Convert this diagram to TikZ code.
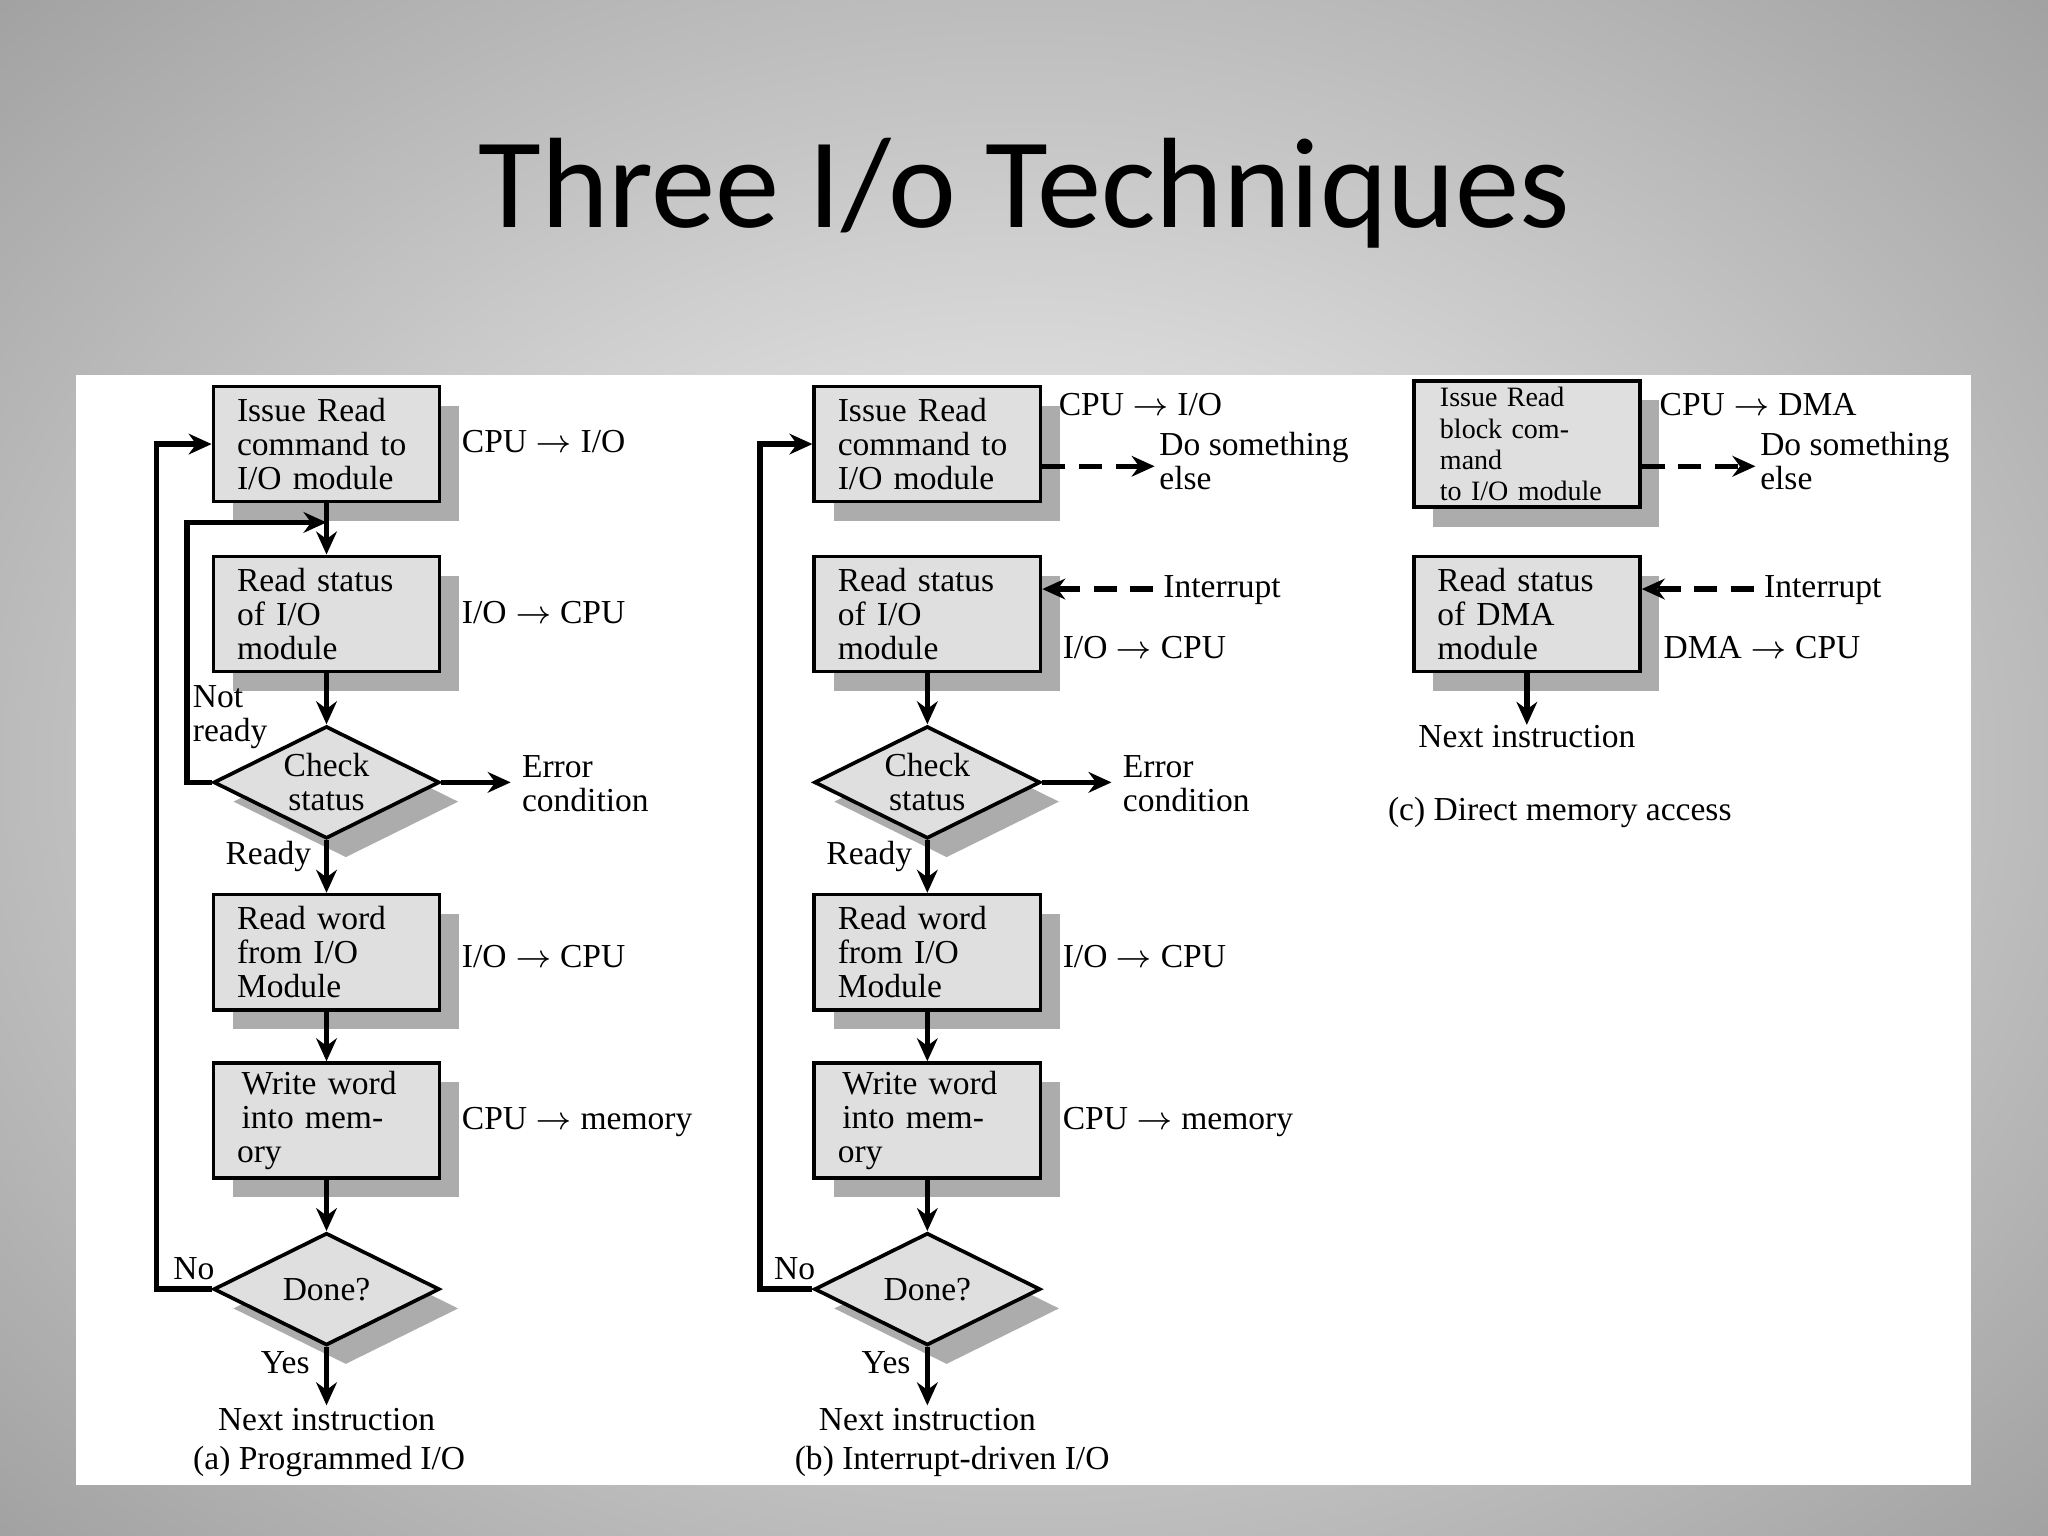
\documentclass[tikz,border=0pt]{standalone}
\usepackage{fontspec}
\setmainfont{Liberation Serif}
\newfontfamily\titlefont{Carlito}
\usetikzlibrary{shapes.geometric,shadows,arrows.meta}
\begin{document}
\begin{tikzpicture}[x=0.01cm,y=-0.01cm,
  font=\fontsize{7.3}{7.4}\selectfont,
  sh/.style={drop shadow={shadow xshift=4.2pt,shadow yshift=-4.2pt,fill=gray!65,opacity=1}},
  boxn/.style={draw,line width=0.8pt,fill=gray!25,sh,minimum width=1.73cm,minimum height=0.88cm,text width=1.37cm,inner xsep=0.18cm,inner ysep=0.05cm,align=left},
  dia/.style={draw,line width=0.8pt,fill=gray!25,sh,diamond,aspect=2,minimum width=1.73cm,minimum height=0.86cm,inner sep=0,align=center},
  ar/.style={line width=1.2pt,-{Stealth[length=5pt,width=4.5pt]}},
  da/.style={ar,dashed,dash pattern=on 5pt off 3pt},
  lb/.style={anchor=west,inner sep=0,align=left}]
\useasboundingbox (0,0) rectangle (1568,1176);
\shade[inner color=gray!5,outer color=gray!85] (-500,-400) rectangle (2068,1576);
\fill[white] (58,287) rectangle (1509,1137);
\node[font=\titlefont\fontsize{28}{30}\selectfont] (title) at (784,148) {Three I/o Techniques};
% column (a)
\node[boxn] (a1) at (250,340) {Issue Read\\command to\\I/O module};
\node[boxn] (a2) at (250,470) {Read status\\of I/O\\module};
\node[dia] (a3) at (250,599) {Check\\status};
\node[boxn] (a4) at (250,729) {Read word\\from I/O\\Module};
\node[boxn] (a5) at (250,858) {\hspace*{1pt}Write word\\\hspace*{1pt}into memory};
\node[dia] (a6) at (250,987) {Done?};
\coordinate (aend) at (250,1076);
\coordinate (aerr) at (391,599);
\draw[ar] (a1) -- (a2);
\draw[ar] (a2) -- (a3);
\draw[ar] (a3) -- (a4);
\draw[ar] (a4) -- (a5);
\draw[ar] (a5) -- (a6);
\draw[ar] (a6) -- (aend);
\draw[ar] (a3.east) -- (aerr);
\draw[ar] (a3.west) -- (143,599) -- (143,400) -- (250,400);
\draw[ar] (a6.west) -- (120,987) -- (120,340) -- (a1.west);
\node[lb] (al1) at (353,338) {CPU $\rightarrow$ I/O};
\node[lb] (al2) at (353,469) {I/O $\rightarrow$ CPU};
\node[lb] (al3) at (399,600) {Error\\condition};
\node[lb] (al4) at (147,549) {Not\\ready};
\node[lb] (al5) at (172,656) {Ready};
\node[lb] (al6) at (353,732) {I/O $\rightarrow$ CPU};
\node[lb] (al7) at (353,859) {CPU $\rightarrow$ memory};
\node[lb] (al8) at (132,971) {No};
\node[lb] (al9) at (199,1043) {Yes};
\node (al10) at (250,1087) {Next instruction};
\node (al11) at (252,1119) {(a) Programmed I/O};
% column (b)
\node[boxn] (b1) at (710,340) {Issue Read\\command to\\I/O module};
\node[boxn] (b2) at (710,470) {Read status\\of I/O\\module};
\node[dia] (b3) at (710,599) {Check\\status};
\node[boxn] (b4) at (710,729) {Read word\\from I/O\\Module};
\node[boxn] (b5) at (710,858) {\hspace*{1pt}Write word\\\hspace*{1pt}into memory};
\node[dia] (b6) at (710,987) {Done?};
\coordinate (bend) at (710,1076);
\coordinate (berr) at (851,599);
\coordinate (bdo) at (884,357);
\coordinate (bint) at (883,451);
\draw[ar] (b2) -- (b3);
\draw[ar] (b3) -- (b4);
\draw[ar] (b4) -- (b5);
\draw[ar] (b5) -- (b6);
\draw[ar] (b6) -- (bend);
\draw[ar] (b3.east) -- (berr);
\draw[da] (b1.east |- bdo) -- (bdo);
\draw[da] (bint) -- (b2.east |- bint);
\draw[ar] (b6.west) -- (582,987) -- (582,340) -- (b1.west);
\node[lb] (bl1) at (810,310) {CPU $\rightarrow$ I/O};
\node[lb] (bl2) at (887,353) {Do something\\else};
\node[lb] (bl3) at (890,452) {Interrupt};
\node[lb] (bl4) at (813,496) {I/O $\rightarrow$ CPU};
\node[lb] (bl5) at (859,600) {Error\\condition};
\node[lb] (bl6) at (632,656) {Ready};
\node[lb] (bl7) at (813,732) {I/O $\rightarrow$ CPU};
\node[lb] (bl8) at (813,859) {CPU $\rightarrow$ memory};
\node[lb] (bl9) at (592,971) {No};
\node[lb] (bl10) at (659,1043) {Yes};
\node (bl11) at (710,1087) {Next instruction};
\node (bl12) at (729,1119) {(b) Interrupt-driven I/O};
% column (c)
\node[boxn,font=\fontsize{6.1}{6.8}\selectfont,inner xsep=0.2cm,text width=1.33cm] (c1) at (1169,340) {Issue Read\\block command\\to I/O module};
\node[boxn] (c2) at (1169,470) {Read status\\of DMA\\module};
\coordinate (cend) at (1169,555);
\coordinate (cdo) at (1344,357);
\coordinate (cint) at (1343,451);
\draw[ar] (c2) -- (cend);
\draw[da] (c1.east |- cdo) -- (cdo);
\draw[da] (cint) -- (c2.east |- cint);
\node[lb] (cl1) at (1270,310) {CPU $\rightarrow$ DMA};
\node[lb] (cl2) at (1347,353) {Do something\\else};
\node[lb] (cl3) at (1350,452) {Interrupt};
\node[lb] (cl4) at (1273,496) {DMA $\rightarrow$ CPU};
\node (cl5) at (1169,564) {Next instruction};
\node[lb] (cl6) at (1062,622) {(c) Direct memory access};
\end{tikzpicture}
\end{document}
